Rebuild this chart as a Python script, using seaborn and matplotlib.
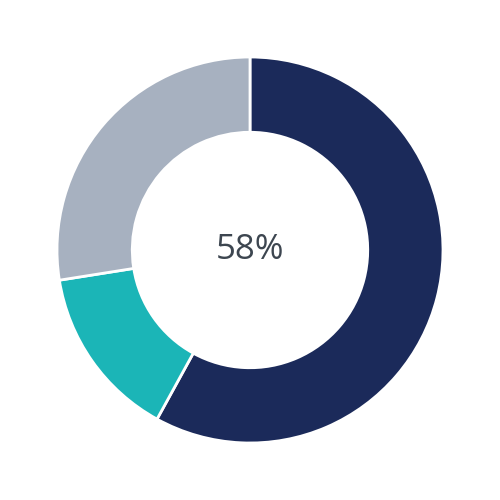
import matplotlib
matplotlib.use('Agg')
import matplotlib.pyplot as plt
import seaborn as sns

sns.set_theme(style='white')
plt.rcParams['font.family'] = ['Open Sans', 'DejaVu Sans']

labels = ['Primary', 'Secondary', 'Other']
values = [58, 14.5, 27.5]
colors = ['#1b2a5a', '#1bb5b7', '#a7b1c0']
center_label = '58%'

fig = plt.figure(figsize=(5, 5), dpi=100)
ax = fig.add_axes([0, 0, 1, 1])
ax.pie(values, colors=colors, startangle=90, counterclock=False, radius=1,
       wedgeprops=dict(width=0.39, edgecolor='white', linewidth=2))
ax.text(0, 0, center_label, ha='center', va='center', fontsize=25, color='#3d4650')
lim = 250 / 193
ax.set_xlim(-lim, lim)
ax.set_ylim(-lim, lim)
ax.set_aspect('equal')
ax.axis('off')
fig.savefig('out.png', dpi=100, facecolor='white')
